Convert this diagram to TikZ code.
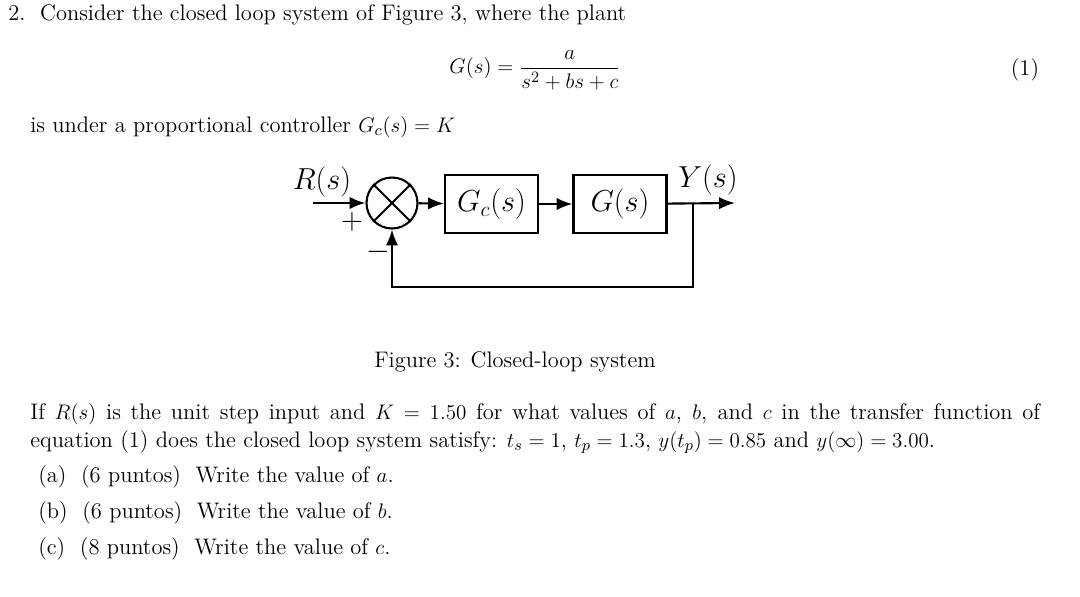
\documentclass[tikz,border=0pt]{standalone}
\usepackage{amsmath}
\usetikzlibrary{arrows.meta}
\begin{document}
\begin{tikzpicture}[x=0.02cm,y=-0.02cm,
  txt/.style={anchor=west,inner sep=0pt,font=\fontsize{12.8}{15}\selectfont},
  blk/.style={draw,line width=1.2pt,minimum width=1.86cm,minimum height=1.16cm,inner sep=0pt,font=\fontsize{17}{19}\selectfont},
  lab/.style={inner sep=0pt,font=\fontsize{17}{19}\selectfont},
  sig/.style={line width=1.2pt,-{Latex[length=9pt,width=7pt]}}]
\useasboundingbox (0,0) rectangle (1080,596);
\node[txt] (l1) at (8,15) {2.\ \ Consider the closed loop system of Figure 3, where the plant};
\node[txt,anchor=center] (eq) at (535,70) {$\displaystyle G(s)=\frac{a}{s^2+bs+c}$};
\node[txt,anchor=center] (eqn) at (1025,70) {(1)};
\node[txt] (l2) at (30,127) {is under a proportional controller $G_c(s)=K$};
% diagram
\node[draw,circle,line width=1.2pt,minimum size=1.02cm,inner sep=0pt] (sum) at (392,203) {};
\draw[line width=1.2pt] (sum.north west) -- (sum.south east) (sum.north east) -- (sum.south west);
\node[blk] (gc) at (491.5,204) {$G_c(s)$};
\node[blk] (g) at (620,204) {$G(s)$};
\coordinate (in) at (313,203);
\coordinate (out) at (735,203);
\coordinate (br) at (693,203);
\coordinate (fb) at (693,287);
\coordinate (fb2) at (392,287);
\draw[sig] (in) -- (sum);
\draw[sig] (sum) -- (gc);
\draw[sig] (gc) -- (g);
\draw[sig] (g) -- (out);
\draw[sig] (br) -- (fb) -- (fb2) -- (sum);
\node[lab] (rs) at (322,182) {$R(s)$};
\node[lab] (ys) at (708,180) {$Y(s)$};
\node[lab] (plus) at (352,222) {$+$};
\node[lab] (minus) at (378,252) {$-$};
\node[txt,anchor=center] (cap) at (515,362) {Figure 3: Closed-loop system};
\node[txt] (p1) at (30,414) {\makebox[20.2cm][s]{If $R(s)$ is the unit step input and $K=1.50$ for what values of $a$, $b$, and $c$ in the transfer function of}};
\node[txt] (p2) at (30,442) {equation (1) does the closed loop system satisfy: $t_s=1$, $t_p=1.3$, $y(t_p)=0.85$ and $y(\infty)=3.00$.};
\node[txt] (a) at (38,477) {(a)\ \ (6 puntos)\ \ Write the value of $a$.};
\node[txt] (b) at (38,513) {(b)\ \ (6 puntos)\ \ Write the value of $b$.};
\node[txt] (c) at (38,549) {(c)\ \ (8 puntos)\ \ Write the value of $c$.};
\end{tikzpicture}
\end{document}
